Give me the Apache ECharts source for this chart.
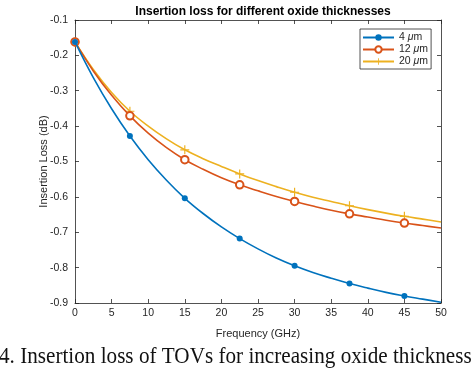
<!DOCTYPE html>
<html>
<head>
<meta charset="utf-8">
<script src="https://cdn.jsdelivr.net/npm/echarts@6/dist/echarts.min.js"></script>
<style>html,body{margin:0;padding:0;background:#fff;}#c{width:474px;height:368px;}</style>
</head>
<body>
<div id="c"></div>
<script>
const freq = [0, 2.5, 5, 7.5, 10, 12.5, 15, 17.5, 20, 22.5, 25, 27.5, 30, 32.5, 35, 37.5, 40, 42.5, 45, 47.5, 50];
const loss4 = [-0.162, -0.263, -0.351, -0.428, -0.495, -0.553, -0.604, -0.647, -0.685, -0.718, -0.747, -0.773, -0.795, -0.814, -0.830, -0.845, -0.858, -0.870, -0.880, -0.889, -0.898];
const loss12 = [-0.162, -0.244, -0.313, -0.371, -0.420, -0.461, -0.495, -0.522, -0.546, -0.566, -0.583, -0.599, -0.613, -0.626, -0.638, -0.648, -0.657, -0.666, -0.674, -0.681, -0.688];
const loss20 = [-0.162, -0.240, -0.305, -0.358, -0.400, -0.436, -0.467, -0.492, -0.514, -0.535, -0.554, -0.571, -0.587, -0.601, -0.613, -0.625, -0.636, -0.646, -0.655, -0.663, -0.671];
const markerEvery = 3;
const seriesNames = ['4 μm', '12 μm', '20 μm'];
const title = 'Insertion loss for different oxide thicknesses';
const xName = 'Frequency (GHz)';
const yName = 'Insertion Loss (dB)';
const caption = '4. Insertion loss of TOVs for increasing oxide thickness';

const txt = '#262626';
const font = 'Liberation Sans';
function pts(vals) {
  return freq.map((f, i) => {
    const d = { value: [f, vals[i]] };
    if (i % markerEvery !== 0 || f > 45) d.symbol = 'none';
    return d;
  });
}
const plusPath = 'path://M0,4.35 L10,4.35 L10,5.65 L0,5.65 Z M4.35,0 L5.65,0 L5.65,10 L4.35,10 Z';
const colors = ['#0072BD', '#D95319', '#EDB120'];
const symbols = ['circle', 'emptyCircle', plusPath];
const sizes = [6, 7.5, 9];
const data = [loss4, loss12, loss20];

const chart = echarts.init(document.getElementById('c'));
chart.setOption({
  animation: false,
  backgroundColor: '#fff',
  title: {
    text: title, left: 258, textAlign: 'center', top: 1,
    textStyle: { fontFamily: font, fontSize: 12, fontWeight: 'bold', color: '#000' }
  },
  grid: { left: 75, right: 33, top: 20, bottom: 65 },
  legend: {
    orient: 'vertical', left: 360, top: 29,
    backgroundColor: '#fff', borderColor: txt, borderWidth: 0.8, borderRadius: 0,
    padding: [3, 3, 2, 2], itemGap: 1, itemWidth: 31, itemHeight: 8,
    data: seriesNames,
    formatter: function (n) { const p = n.split(' '); return '{n|' + p[0] + ' }{i|μ}{n|m}'; },
    textStyle: {
      fontFamily: font, fontSize: 10.5, color: txt,
      rich: { n: { fontFamily: font, fontSize: 10.5, color: txt }, i: { fontFamily: font, fontSize: 10.5, fontStyle: 'italic', color: txt } }
    }
  },
  xAxis: [{
    type: 'value', min: 0, max: 50, interval: 5,
    name: xName, nameLocation: 'middle', nameGap: 25, nameMoveOverlap: false,
    nameTextStyle: { fontFamily: font, fontSize: 11, color: txt },
    axisLine: { onZero: false, lineStyle: { color: txt, width: 0.8 } },
    axisTick: { inside: true, length: 4, lineStyle: { color: txt, width: 0.8 } },
    axisLabel: { fontFamily: font, fontSize: 10.5, color: txt, margin: 5 },
    splitLine: { show: false }
  }, {
    type: 'value', min: 0, max: 50, interval: 5, position: 'top',
    axisLine: { onZero: false, lineStyle: { color: txt, width: 0.8 } },
    axisTick: { inside: true, length: 4, lineStyle: { color: txt, width: 0.8 } },
    axisLabel: { show: false }, splitLine: { show: false }
  }],
  yAxis: [{
    type: 'value', min: -0.9, max: -0.1, interval: 0.1,
    name: yName, nameLocation: 'middle', nameGap: 26, nameMoveOverlap: false,
    nameTextStyle: { fontFamily: font, fontSize: 11, color: txt },
    axisLine: { show: true, onZero: false, lineStyle: { color: txt, width: 0.8 } },
    axisTick: { show: true, inside: true, length: 4, lineStyle: { color: txt, width: 0.8 } },
    axisLabel: { fontFamily: font, fontSize: 10.5, color: txt, margin: 7, formatter: v => (+v.toFixed(1)).toString() },
    splitLine: { show: false }
  }, {
    type: 'value', min: -0.9, max: -0.1, interval: 0.1, position: 'right',
    axisLine: { show: true, onZero: false, lineStyle: { color: txt, width: 0.8 } },
    axisTick: { show: true, inside: true, length: 4, lineStyle: { color: txt, width: 0.8 } },
    axisLabel: { show: false }, splitLine: { show: false }
  }],
  series: data.map((d, k) => ({
    name: seriesNames[k], type: 'line', data: pts(d),
    smooth: 0.4,
    showSymbol: true, showAllSymbol: true,
    symbol: symbols[k], symbolSize: sizes[k],
    lineStyle: { color: colors[k], width: 1.6 },
    itemStyle: { color: colors[k], borderColor: colors[k], borderWidth: k === 1 ? 1.3 : 0 },
    z: 10 - k
  })),
  graphic: [{
    type: 'text', left: -1, top: 345, scaleX: 0.92,
    style: { text: caption, font: '23px "Liberation Serif"', fill: '#111' }
  }]
});
</script>
</body>
</html>
